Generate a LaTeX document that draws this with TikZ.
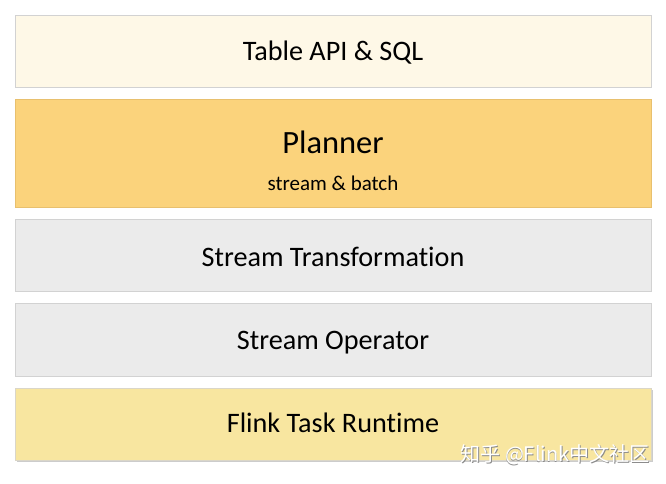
\documentclass[tikz,border=0pt]{standalone}
\usepackage{fontspec}
\setmainfont{Carlito}[Ligatures = NoCommon]
\newfontfamily\cjkfont{Noto Sans CJK SC}
\usetikzlibrary{shadows}

\definecolor{apifill}{HTML}{FEF8E7}
\definecolor{plannerfill}{HTML}{FBD37C}
\definecolor{plannerline}{HTML}{E8C06E}
\definecolor{streamfill}{HTML}{EBEBEB}
\definecolor{runtimefill}{HTML}{F8E6A0}
\definecolor{boxline}{HTML}{D2D2D2}

\begin{document}
\begin{tikzpicture}[
									x = 1pt,
									y = -1pt,
									layer/.style = {
										draw = boxline,
										line width = 1pt,
										rectangle,
										inner sep = 0,
										minimum width = 636pt
									},
									big/.style = {
										font = \fontsize{28.2}{32}\selectfont
									}
								]
							\useasboundingbox (0, 0) rectangle (666, 483);

							\node [layer, fill = apifill, minimum height = 72pt] (api) at (333, 51) {};
							\node [layer, fill = plannerfill, draw = plannerline, minimum height = 108pt] (planner) at (333, 153) {};
							\node [layer, fill = streamfill, minimum height = 72pt] (trans) at (333, 255) {};
							\node [layer, fill = streamfill, minimum height = 73pt] (oper) at (333, 339.5) {};
							\node [layer, fill = runtimefill, draw = boxline!80!runtimefill, minimum height = 72pt,
								drop shadow = {shadow xshift = 1.5pt, shadow yshift = -2pt, fill = black!40}] (runtime) at (333, 424) {};

							\node [big] (apitext) at (333, 53) {Table API \& SQL};
							\node [font = \fontsize{32.5}{36}\selectfont] (plannertext) at (333, 142) {Planner};
							\node [font = \fontsize{21}{24}\selectfont] (plannersub) at (333, 183) {stream \& batch};
							\node [big] (transtext) at (333, 257) {Stream Transformation};
							\node [big] (opertext) at (333, 343) {Stream Operator};
							\node [big] (runtimetext) at (333, 423) {Flink Task Runtime};

							\node [font = \cjkfont\fontsize{20}{23}\selectfont, text = black!45] at (555.8, 455.8) {知乎 @Flink中文社区};
							\node [font = \cjkfont\fontsize{20}{23}\selectfont, text = white] (mark) at (555, 455) {知乎 @Flink中文社区};
						\end{tikzpicture}
\end{document}
